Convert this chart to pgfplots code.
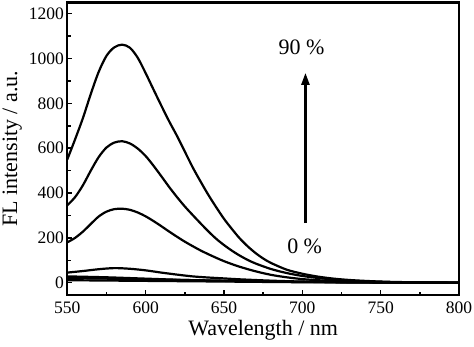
\documentclass[border=0pt]{standalone}
\usepackage{fontspec}
\setmainfont{Liberation Serif}
\usepackage{pgfplots}
\pgfplotsset{compat=1.18}
\usetikzlibrary{arrows.meta}
\tikzset{curve/.style={black, line width=2.2pt, smooth, mark=none}}

\begin{document}
\begin{tikzpicture}
\begin{axis}[
 scale only axis, width=391.7pt, height=292.5pt,
 xmin=550, xmax=800, ymin=-55, ymax=1250,
 xtick={550,600,...,800}, minor x tick num=1,
 ytick={0,200,...,1200}, minor y tick num=1,
 tick pos=left, tick align=inside,
 major tick length=5pt, minor tick length=3.5pt,
 axis line style={line width=2.1pt},
 every tick/.style={line width=1.5pt, black},
 /pgf/number format/assume math mode=true,
 /pgf/number format/1000 sep={},
 ticklabel style={font=\fontsize{17.5}{19}\selectfont},
 xticklabel style={yshift=-3.5pt},
 label style={font=\fontsize{22}{25}\selectfont},
 xlabel={Wavelength / nm}, ylabel={FL intensity / a.u.},
]
\coordinate (O) at (rel axis cs:0,0);
% 90 %
\addplot[curve] table {
550 550
555 640
560 735
565 842
570 940
575 1012
580 1050
585 1062
590 1048
595 1003
600 935
605 862
610 790
615 720
620 655
625 585
630 515
635 452
640 392
645 337
650 285
655 240
660 198
665 163
670 133
675 108
680 88
690 58
700 40
710 27
720 18
730 12
740 8
750 5
760 3
780 1
800 0
};
\addplot[curve] table {
550 345
555 382
560 435
565 500
570 560
575 603
580 625
585 631
590 621
595 598
600 565
605 522
610 475
615 427
620 382
625 340
630 302
635 265
640 229
645 196
650 168
655 143
660 121
665 102
670 86
680 61
690 43
700 30
710 21
720 14
730 9
740 6
750 4
760 2
780 1
800 0
};
\addplot[curve] table {
550 180
555 200
560 228
565 262
570 295
575 317
580 328
585 330
590 325
595 313
600 296
605 275
610 252
615 228
620 205
625 183
630 163
635 144
640 127
645 111
650 96
655 83
660 71
670 51
680 35
690 24
700 16
710 11
720 7
730 5
740 3
760 1
800 0
};
\addplot[curve] table {
550 45
560 52
570 60
580 65
590 62
600 55
610 45
620 36
630 28
640 23
650 19
660 15
680 9
700 5
720 3
750 1
800 0
};
\addplot[curve] table {
550 28
575 24
600 18
625 12
650 8
675 5
700 3
750 1
800 0
};
\addplot[curve] table {
550 20
575 18
600 15
650 9
700 4
750 1
800 0
};
\addplot[curve] table {
550 11
600 8
650 5
700 2
750 0.5
800 0
};
\draw[line width=2.4pt, -{Triangle[length=12pt,width=8pt]}] (axis cs:702,266) -- (axis cs:702,936);
\node[font=\fontsize{22}{25}\selectfont] at (axis cs:699.5,1048) {90 \%};
\node[font=\fontsize{22}{25}\selectfont] at (axis cs:701.5,162) {0 \%};
\end{axis}
\pgfresetboundingbox
\path ([shift={(-67.3pt,-51pt)}]O) rectangle ++(474pt,346pt);
\end{tikzpicture}
\end{document}
